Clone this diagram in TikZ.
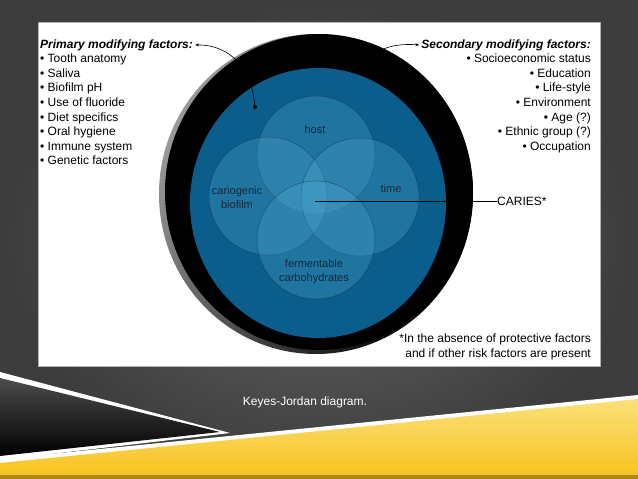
\documentclass[tikz,border=0pt]{standalone}
\usepackage{fontspec}
\setmainfont{Liberation Sans}
\usetikzlibrary{arrows.meta}
\definecolor{bgdark}{HTML}{3C3C3C}
\definecolor{bgmid}{HTML}{666666}
\definecolor{ringblue}{HTML}{0B5E8C}
\definecolor{venn}{HTML}{4FA8D0}
\definecolor{inktext}{HTML}{15283C}
\definecolor{ylw}{HTML}{F7C21A}
\definecolor{ylwlight}{HTML}{FBE07A}
\begin{document}
\begin{tikzpicture}[x=1pt,y=-1pt,
  lst/.style={font=\fontsize{12}{15}\selectfont,inner sep=0pt,text=black},
  inl/.style={font=\fontsize{11}{14}\selectfont,text=inktext,inner sep=0pt,align=center},
  vc/.style={circle,minimum size=118pt,inner sep=0pt,fill=venn,fill opacity=0.3,draw=inktext,draw opacity=0.5,line width=0.5pt},
  arr/.style={-{Stealth[length=4pt,width=3pt]},line width=0.6pt}]
\useasboundingbox (0,0) rectangle (638,479);
% background
\shade[inner color=bgmid,outer color=bgdark] (0,0) rectangle (638,479);
% panel
\node[draw=gray!60,line width=1pt,fill=white,minimum width=562pt,minimum height=344pt,inner sep=0pt,anchor=north west] (panel) at (38,22) {};
% outer ring and blue disc
\shade[left color=gray!80,right color=black,shading angle=60] (316,194) ellipse [x radius=157pt,y radius=160pt];
\fill[black] (319,192) ellipse [x radius=154pt,y radius=158pt];
\fill[ringblue] (318,203) ellipse [x radius=128pt,y radius=135pt];
% venn circles
\node[vc] (host) at (316,155) {};
\node[vc] (bio) at (268,196) {};
\node[vc] (time) at (360,197) {};
\node[vc] (carb) at (316,240) {};
\node[inl] (thost) at (315,130) {host};
\node[inl,align=center] (tbio) at (237,198) {cariogenic\\biofilm};
\node[inl] (ttime) at (391,189) {time};
\node[inl] (tcarb) at (314,272) {fermentable\\carbohydrates};
% caries
\coordinate (cc) at (315,201);
\node[lst,anchor=west] (caries) at (497,201) {CARIES*};
\draw[line width=0.9pt] (cc) -- (caries.west);
% left list
\node[lst,anchor=base west] (ph) at (40,48) {\textbf{\textit{Primary modifying factors:}}};
\foreach \t [count=\i] in {Tooth anatomy,Saliva,Biofilm pH,Use of fluoride,Diet specifics,Oral hygiene,Immune system,Genetic factors}
  \node[lst,anchor=base west] (l\i) at (40,{48+14.6*\i}) {\textbullet\ \t};
% right list
\node[lst,anchor=base east] (sh) at (591,48) {\textbf{\textit{Secondary modifying factors:}}};
\foreach \t [count=\i] in {Socioeconomic status,Education,Life-style,Environment,Age (?),Ethnic group (?),Occupation}
  \node[lst,anchor=base east] (r\i) at (591,{48+14.6*\i}) {\textbullet\ \t};
% arrows
\coordinate (pd) at (255,107);
\coordinate (sd) at (368,68);
\fill (pd) circle (2pt);
\draw[arr] (pd) .. controls (252,70) and (232,45) .. ([xshift=2pt]ph.east);
\draw[arr] (sd) .. controls (372,50) and (390,43) .. ([xshift=-2pt]sh.west);
% footnote
\node[lst,anchor=east,align=right] (fn) at (591,347) {*In the absence of protective factors\\and if other risk factors are present};
% bottom decoration
\fill[white] (0,372) -- (230,433) -- (0,460) -- cycle;
\shade[top color=gray!60!black,bottom color=black] (0,378) -- (220,432) -- (0,456) -- cycle;
\fill[white] (0,459) -- (638,395) -- (638,479) -- (0,479) -- cycle;
\shade[top color=ylwlight,bottom color=ylw] (0,463) -- (638,399) -- (638,479) -- (0,479) -- cycle;
\fill[ylw!70!black] (0,475) rectangle (638,479);
\node[font=\fontsize{12}{14}\selectfont,text=white] (cap) at (305,402) {Keyes-Jordan diagram.};
\end{tikzpicture}
\end{document}
